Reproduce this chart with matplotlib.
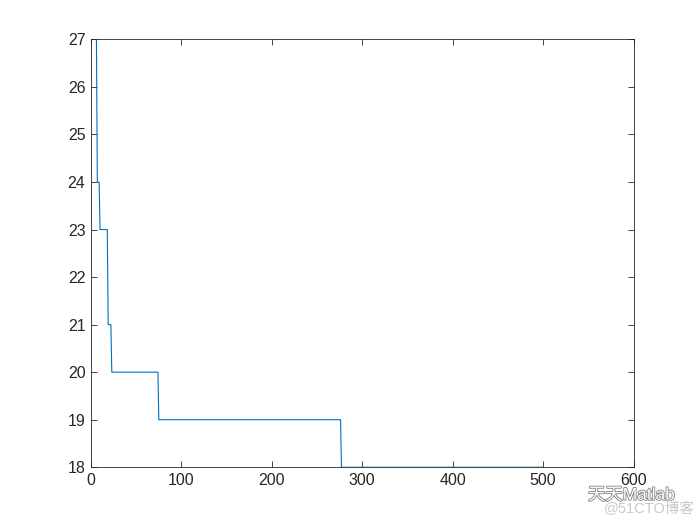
import matplotlib.pyplot as plt
import matplotlib.patheffects as pe

plt.rcParams['font.family'] = ['Liberation Sans', 'Noto Sans CJK SC', 'DejaVu Sans']

# breakpoints of the convergence curve (iteration, best value)
iters = [1, 6, 7, 9, 10, 18, 19, 22, 23, 74, 75, 276, 277, 500]
best = [27, 27, 24, 24, 23, 23, 21, 21, 20, 20, 19, 19, 18, 18]

xticks = [0, 100, 200, 300, 400, 500, 600]
yticks = [18, 19, 20, 21, 22, 23, 24, 25, 26, 27]

fig = plt.figure(figsize=(7, 5.25), dpi=100)
ax = fig.add_axes([0.13, 0.11, 0.775, 0.815])

ax.plot(iters, best, color="#0072BD", linewidth=0.8)

ax.set_xlim(0, 600)
ax.set_ylim(18, 27)
ax.set_xticks(xticks)
ax.set_yticks(yticks)

ax.tick_params(direction='in', top=True, right=True, length=4, width=0.6,
               colors="#262626", labelsize=11.5, pad=4)
for s in ax.spines.values():
    s.set_color("#262626")
    s.set_linewidth(0.6)

# watermark
fig.text(0.84, 0.048, "天天Matlab", fontsize=12.5, color="white",
         path_effects=[pe.withStroke(linewidth=1.2, foreground="#808080")])
fig.text(0.862, 0.022, "@51CTO博客", fontsize=10.5, color="#c8c8c8")

plt.savefig("out.png", dpi=100)
plt.close()
